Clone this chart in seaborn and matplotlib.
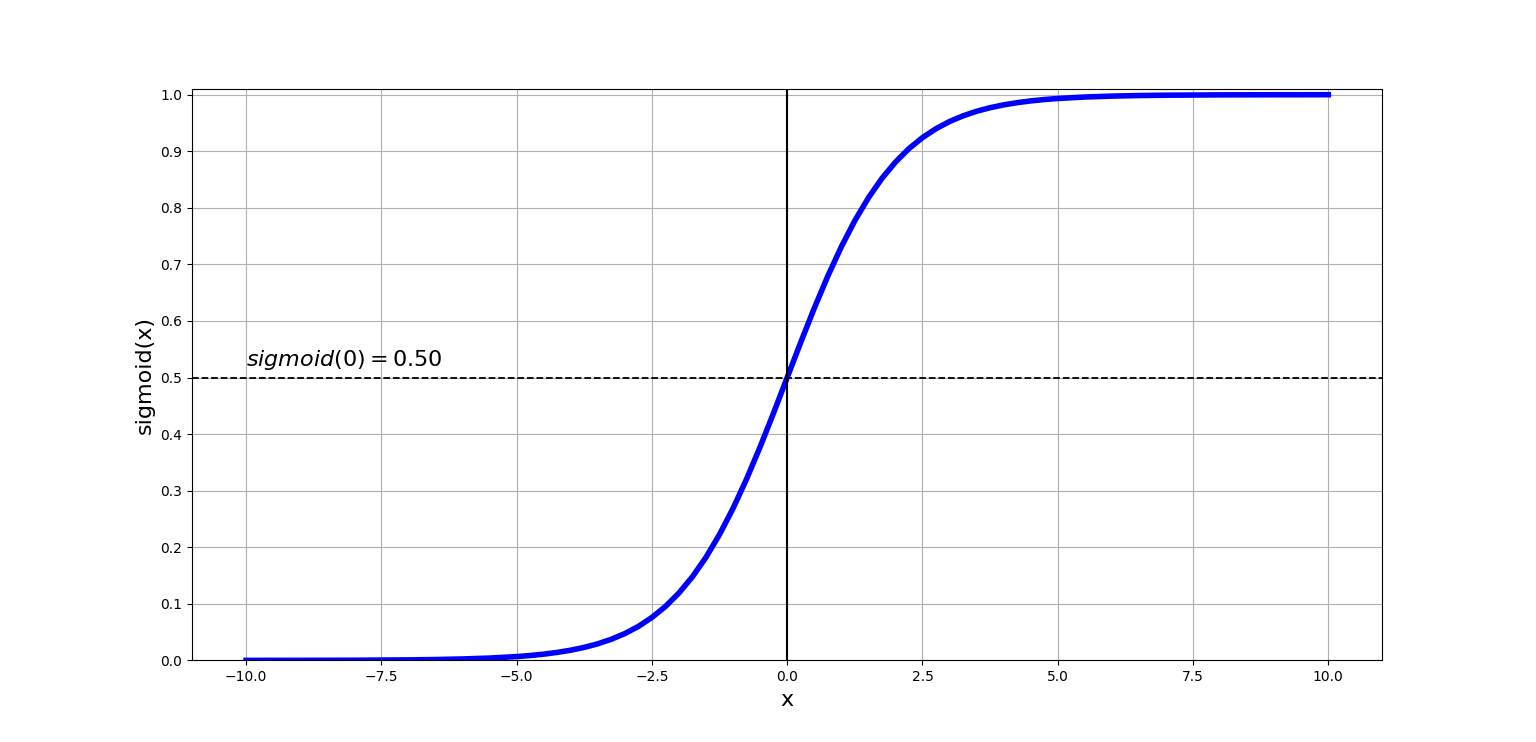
import matplotlib
matplotlib.use('Agg')
import seaborn as sns
import matplotlib.pyplot as plt
import pandas as pd

# Points (x, sigmoid(x))
x_vals = [-10.0, -9.5, -9.0, -8.5, -8.0, -7.5, -7.0, -6.5, -6.0, -5.5,
          -5.0, -4.75, -4.5, -4.25, -4.0, -3.75, -3.5, -3.25, -3.0, -2.75,
          -2.5, -2.25, -2.0, -1.75, -1.5, -1.25, -1.0, -0.75, -0.5, -0.25,
          0.0, 0.25, 0.5, 0.75, 1.0, 1.25, 1.5, 1.75, 2.0, 2.25,
          2.5, 2.75, 3.0, 3.25, 3.5, 3.75, 4.0, 4.25, 4.5, 4.75,
          5.0, 5.5, 6.0, 6.5, 7.0, 7.5, 8.0, 8.5, 9.0, 9.5, 10.0]
y_vals = [0.0000, 0.0001, 0.0001, 0.0002, 0.0003, 0.0006, 0.0009, 0.0015, 0.0025, 0.0041,
          0.0067, 0.0086, 0.0110, 0.0141, 0.0180, 0.0230, 0.0293, 0.0374, 0.0474, 0.0601,
          0.0759, 0.0953, 0.1192, 0.1480, 0.1824, 0.2227, 0.2689, 0.3208, 0.3775, 0.4378,
          0.5000, 0.5622, 0.6225, 0.6792, 0.7311, 0.7773, 0.8176, 0.8520, 0.8808, 0.9047,
          0.9241, 0.9399, 0.9526, 0.9626, 0.9707, 0.9770, 0.9820, 0.9859, 0.9890, 0.9914,
          0.9933, 0.9959, 0.9975, 0.9985, 0.9991, 0.9994, 0.9997, 0.9998, 0.9999, 0.9999, 1.0000]
label_text = r'$sigmoid(0) = 0.50$'

df = pd.DataFrame({'x': x_vals, 'sigmoid': y_vals})

fig, ax = plt.subplots(figsize=(15.36, 7.42), dpi=100)
sns.lineplot(data=df, x='x', y='sigmoid', color='blue', linewidth=4, ax=ax)

# reference lines
ax.axhline(0.5, color='black', linestyle='--', linewidth=1.3)
ax.axvline(0.0, color='black', linewidth=1.5)
ax.text(-10, 0.52, label_text, fontsize=16)

ax.set_ylim(0, 1.01)
ax.set_yticks([i / 10 for i in range(11)])
ax.grid(True)
ax.set_xlabel('x', fontsize=16)
ax.set_ylabel('sigmoid(x)', fontsize=16)

plt.savefig('out.png', dpi=100)
